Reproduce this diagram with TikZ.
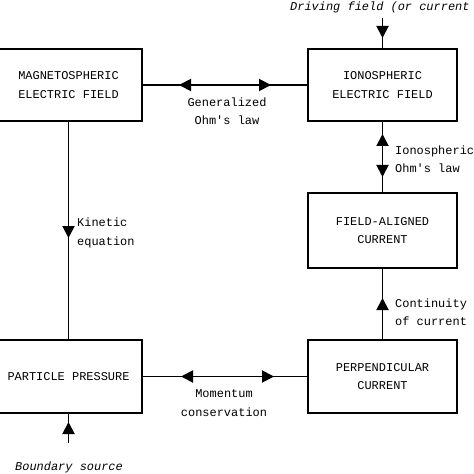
\documentclass[tikz,border=0pt]{standalone}
\usepackage{fontspec}
\setmonofont{Liberation Mono}
\usetikzlibrary{arrows.meta,decorations.markings}
\begin{document}
\begin{tikzpicture}[x=1bp,y=-1bp,
  txt/.style={font=\ttfamily\fontsize{12}{18.5}\selectfont},
  box/.style={txt,draw,line width=2bp,inner sep=0pt,align=center,minimum width=147bp},
  lbl/.style={txt,inner sep=0pt},
  conn/.style={line width=1.9bp},
  fwd/.style={postaction={decorate,decoration={markings,mark=at position #1 with {\arrow{Triangle[length=12bp,width=12bp]}}}}},
  bwd/.style={postaction={decorate,decoration={markings,mark=at position #1 with {\arrowreversed{Triangle[length=12bp,width=12bp]}}}}}
]
\useasboundingbox (0,0) rectangle (474,474);
\fill[white] (0,0) rectangle (474,474);

\node[box,minimum height=72bp] (mag) at (68.5,85) {MAGNETOSPHERIC\\ELECTRIC FIELD};
\node[box,minimum height=72bp,minimum width=149bp] (ion) at (382.5,85) {IONOSPHERIC\\ELECTRIC FIELD};
\node[box,minimum height=75bp,minimum width=149bp] (fac) at (382.5,230.5) {FIELD-ALIGNED\\CURRENT};
\node[box,minimum height=73bp,minimum width=149bp] (perp) at (382.5,376.5) {PERPENDICULAR\\CURRENT};
\node[box,minimum height=73bp] (part) at (68.5,376.5) {PARTICLE PRESSURE};

\coordinate (df) at (382.5,18);
\coordinate (bs) at (68.5,443);

\draw[conn,bwd=36bp,fwd=-36bp] (mag.east) -- (ion.west);
\draw[conn,bwd=12bp,fwd=-15bp] (ion.south) -- (fac.north);
\draw[conn,fwd=116bp] (mag.south) -- (part.north);
\draw[conn,bwd=29bp] (fac.south) -- (perp.north);
\draw[conn,bwd=38bp,fwd=-33bp] (part.east) -- (perp.west);
\draw[conn,fwd=21bp] (bs) -- (part.south);
\draw[conn,fwd=20bp] (df) -- (ion.north);

\node[lbl,align=center] (l1) at (227,111) {Generalized\\Ohm's law};
\node[lbl,align=left,anchor=west] (l2) at (395,159.5) {Ionospheric\\Ohm's law};
\node[lbl,align=left,anchor=west] (l3) at (77,233) {Kinetic\\equation};
\node[lbl,align=left,anchor=west] (l4) at (395,312) {Continuity\\of current};
\node[lbl,align=center] (l5) at (224,403) {Momentum\\conservation};
\node[lbl,font=\ttfamily\itshape\fontsize{12}{18.5}\selectfont] (l6) at (69,467) {Boundary source};
\node[lbl,anchor=west,font=\ttfamily\itshape\fontsize{12}{18.5}\selectfont] (l7) at (290,7) {Driving field (or current};
\end{tikzpicture}
\end{document}
